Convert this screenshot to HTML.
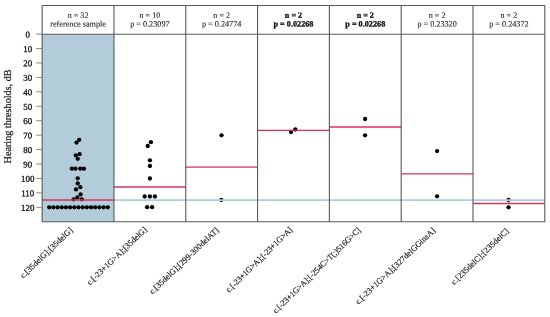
<!DOCTYPE html>
<html><head><meta charset="utf-8"><title>Hearing thresholds</title>
<style>html,body{margin:0;padding:0;background:#fff}body{width:550px;height:317px;overflow:hidden}svg{display:block}text{font-family:"Liberation Serif",serif;text-rendering:geometricPrecision;fill:#161616;stroke:#161616;stroke-width:0.22px}text.h{stroke:#222;stroke-width:0.1px;fill:#222}text.hb{stroke:#111;stroke-width:0.3px;fill:#111}</style>
</head><body>
<svg width="550" height="317" viewBox="0 0 550 317">
<rect x="0" y="0" width="550" height="317" fill="#ffffff"/>
<rect x="42.15" y="34.25" width="71.81" height="187.55" fill="#b2ccd9"/>
<circle cx="79.2" cy="139.8" r="2.15" fill="#000"/>
<circle cx="76.5" cy="142.6" r="2.15" fill="#000"/>
<circle cx="79.6" cy="154.2" r="2.15" fill="#000"/>
<circle cx="75.8" cy="155.3" r="2.15" fill="#000"/>
<circle cx="77.7" cy="158.8" r="2.15" fill="#000"/>
<circle cx="71.8" cy="168.7" r="2.15" fill="#000"/>
<circle cx="75.4" cy="168.7" r="2.15" fill="#000"/>
<circle cx="80.2" cy="168.7" r="2.15" fill="#000"/>
<circle cx="83.9" cy="168.7" r="2.15" fill="#000"/>
<circle cx="77.7" cy="178.3" r="2.15" fill="#000"/>
<circle cx="77.7" cy="183.4" r="2.15" fill="#000"/>
<circle cx="80.3" cy="187.2" r="2.15" fill="#000"/>
<circle cx="76.0" cy="189.4" r="2.15" fill="#000"/>
<circle cx="80.6" cy="194.4" r="2.15" fill="#000"/>
<circle cx="77.4" cy="197.4" r="2.15" fill="#000"/>
<circle cx="73.6" cy="199.3" r="2.15" fill="#000"/>
<circle cx="81.8" cy="199.3" r="2.15" fill="#000"/>
<circle cx="49.2" cy="207.3" r="2.15" fill="#000"/>
<circle cx="53.4" cy="207.3" r="2.15" fill="#000"/>
<circle cx="57.6" cy="207.3" r="2.15" fill="#000"/>
<circle cx="61.8" cy="207.3" r="2.15" fill="#000"/>
<circle cx="65.9" cy="207.3" r="2.15" fill="#000"/>
<circle cx="70.1" cy="207.3" r="2.15" fill="#000"/>
<circle cx="74.3" cy="207.3" r="2.15" fill="#000"/>
<circle cx="78.5" cy="207.3" r="2.15" fill="#000"/>
<circle cx="82.7" cy="207.3" r="2.15" fill="#000"/>
<circle cx="86.9" cy="207.3" r="2.15" fill="#000"/>
<circle cx="91.1" cy="207.3" r="2.15" fill="#000"/>
<circle cx="95.2" cy="207.3" r="2.15" fill="#000"/>
<circle cx="99.4" cy="207.3" r="2.15" fill="#000"/>
<circle cx="103.6" cy="207.3" r="2.15" fill="#000"/>
<circle cx="107.8" cy="207.3" r="2.15" fill="#000"/>
<circle cx="150.9" cy="142.2" r="2.15" fill="#000"/>
<circle cx="147.7" cy="146.0" r="2.15" fill="#000"/>
<circle cx="149.9" cy="160.3" r="2.15" fill="#000"/>
<circle cx="149.9" cy="166.0" r="2.15" fill="#000"/>
<circle cx="149.9" cy="178.5" r="2.15" fill="#000"/>
<circle cx="144.6" cy="196.5" r="2.15" fill="#000"/>
<circle cx="149.9" cy="196.5" r="2.15" fill="#000"/>
<circle cx="154.9" cy="196.5" r="2.15" fill="#000"/>
<circle cx="147.1" cy="207.2" r="2.15" fill="#000"/>
<circle cx="152.1" cy="207.2" r="2.15" fill="#000"/>
<circle cx="221.5" cy="135.3" r="2.15" fill="#000"/>
<circle cx="221.3" cy="199.9" r="2.15" fill="#000"/>
<circle cx="291.1" cy="132.0" r="2.15" fill="#000"/>
<circle cx="295.3" cy="129.5" r="2.15" fill="#000"/>
<circle cx="365.1" cy="119.0" r="2.15" fill="#000"/>
<circle cx="365.1" cy="135.3" r="2.15" fill="#000"/>
<circle cx="437.1" cy="151.1" r="2.15" fill="#000"/>
<circle cx="437.1" cy="196.3" r="2.15" fill="#000"/>
<circle cx="508.5" cy="200.0" r="2.15" fill="#000"/>
<circle cx="508.5" cy="207.3" r="2.15" fill="#000"/>
<line x1="113.96" x2="544.80" y1="200.1" y2="200.1" stroke="#b2cddd" stroke-width="1.6"/>
<line x1="42.15" x2="113.96" y1="200.0" y2="200.0" stroke="#d8305e" stroke-width="1.35"/>
<line x1="113.96" x2="185.76" y1="187.0" y2="187.0" stroke="#d8305e" stroke-width="1.35"/>
<line x1="185.76" x2="257.57" y1="167.1" y2="167.1" stroke="#d8305e" stroke-width="1.35"/>
<line x1="257.57" x2="329.38" y1="130.3" y2="130.3" stroke="#d8305e" stroke-width="1.35"/>
<line x1="329.38" x2="401.19" y1="127.0" y2="127.0" stroke="#d8305e" stroke-width="1.35"/>
<line x1="401.19" x2="472.99" y1="173.8" y2="173.8" stroke="#d8305e" stroke-width="1.35"/>
<line x1="472.99" x2="544.80" y1="203.5" y2="203.5" stroke="#d8305e" stroke-width="1.35"/>
<g stroke="#585858" stroke-width="1.1" fill="none" stroke-linejoin="round">
<rect x="42.15" y="5.50" width="502.65" height="216.30"/>
<line x1="42.15" x2="544.80" y1="34.25" y2="34.25"/>
<line x1="113.96" x2="113.96" y1="5.50" y2="221.80"/>
<line x1="185.76" x2="185.76" y1="5.50" y2="221.80"/>
<line x1="257.57" x2="257.57" y1="5.50" y2="221.80"/>
<line x1="329.38" x2="329.38" y1="5.50" y2="221.80"/>
<line x1="401.19" x2="401.19" y1="5.50" y2="221.80"/>
<line x1="472.99" x2="472.99" y1="5.50" y2="221.80"/>
<line x1="36.3" x2="42.15" y1="34.10" y2="34.10" stroke-width="0.9" stroke="#7a7a7a"/>
<line x1="36.3" x2="42.15" y1="48.54" y2="48.54" stroke-width="0.9" stroke="#7a7a7a"/>
<line x1="36.3" x2="42.15" y1="62.97" y2="62.97" stroke-width="0.9" stroke="#7a7a7a"/>
<line x1="36.3" x2="42.15" y1="77.41" y2="77.41" stroke-width="0.9" stroke="#7a7a7a"/>
<line x1="36.3" x2="42.15" y1="91.84" y2="91.84" stroke-width="0.9" stroke="#7a7a7a"/>
<line x1="36.3" x2="42.15" y1="106.28" y2="106.28" stroke-width="0.9" stroke="#7a7a7a"/>
<line x1="36.3" x2="42.15" y1="120.71" y2="120.71" stroke-width="0.9" stroke="#7a7a7a"/>
<line x1="36.3" x2="42.15" y1="135.15" y2="135.15" stroke-width="0.9" stroke="#7a7a7a"/>
<line x1="36.3" x2="42.15" y1="149.58" y2="149.58" stroke-width="0.9" stroke="#7a7a7a"/>
<line x1="36.3" x2="42.15" y1="164.01" y2="164.01" stroke-width="0.9" stroke="#7a7a7a"/>
<line x1="36.3" x2="42.15" y1="178.45" y2="178.45" stroke-width="0.9" stroke="#7a7a7a"/>
<line x1="36.3" x2="42.15" y1="192.88" y2="192.88" stroke-width="0.9" stroke="#7a7a7a"/>
<line x1="36.3" x2="42.15" y1="207.32" y2="207.32" stroke-width="0.9" stroke="#7a7a7a"/>
</g>
<text transform="translate(27.7,37.50) rotate(0.03)" font-size="8.9" text-anchor="middle" style="stroke-width:0.32px">0</text>
<text transform="translate(27.7,51.94) rotate(0.03)" font-size="8.9" text-anchor="middle" style="stroke-width:0.32px">10</text>
<text transform="translate(27.7,66.37) rotate(0.03)" font-size="8.9" text-anchor="middle" style="stroke-width:0.32px">20</text>
<text transform="translate(27.7,80.81) rotate(0.03)" font-size="8.9" text-anchor="middle" style="stroke-width:0.32px">30</text>
<text transform="translate(27.7,95.24) rotate(0.03)" font-size="8.9" text-anchor="middle" style="stroke-width:0.32px">40</text>
<text transform="translate(27.7,109.68) rotate(0.03)" font-size="8.9" text-anchor="middle" style="stroke-width:0.32px">50</text>
<text transform="translate(27.7,124.11) rotate(0.03)" font-size="8.9" text-anchor="middle" style="stroke-width:0.32px">60</text>
<text transform="translate(27.7,138.55) rotate(0.03)" font-size="8.9" text-anchor="middle" style="stroke-width:0.32px">70</text>
<text transform="translate(27.7,152.98) rotate(0.03)" font-size="8.9" text-anchor="middle" style="stroke-width:0.32px">80</text>
<text transform="translate(27.7,167.41) rotate(0.03)" font-size="8.9" text-anchor="middle" style="stroke-width:0.32px">90</text>
<text transform="translate(27.7,181.85) rotate(0.03)" font-size="8.9" text-anchor="middle" style="stroke-width:0.32px">100</text>
<text transform="translate(27.7,196.28) rotate(0.03)" font-size="8.9" text-anchor="middle" style="stroke-width:0.32px">110</text>
<text transform="translate(27.7,210.72) rotate(0.03)" font-size="8.9" text-anchor="middle" style="stroke-width:0.32px">120</text>
<text transform="translate(11.1,116.45) rotate(-90.03)" font-size="10.17" text-anchor="middle">Hearing thresholds, dB</text>
<text class="h" transform="translate(78.05,17.7) rotate(0.03)" font-size="8.1" text-anchor="middle">n = 32</text>
<text class="h" transform="translate(78.05,26.5) rotate(0.03)" font-size="8.2" text-anchor="middle">reference sample</text>
<text class="h" transform="translate(149.86,17.7) rotate(0.03)" font-size="8.1" text-anchor="middle">n = 10</text>
<text class="h" transform="translate(149.86,26.5) rotate(0.03)" font-size="8.2" text-anchor="middle">p = 0.23097</text>
<text class="h" transform="translate(221.67,17.7) rotate(0.03)" font-size="8.1" text-anchor="middle">n = 2</text>
<text class="h" transform="translate(221.67,26.5) rotate(0.03)" font-size="8.2" text-anchor="middle">p = 0.24774</text>
<text class="hb" transform="translate(293.47,17.7) rotate(0.03)" font-size="8.1" text-anchor="middle" font-weight="bold">n = 2</text>
<text class="hb" transform="translate(293.47,26.5) rotate(0.03)" font-size="8.2" text-anchor="middle" font-weight="bold">p = 0.02268</text>
<text class="hb" transform="translate(365.28,17.7) rotate(0.03)" font-size="8.1" text-anchor="middle" font-weight="bold">n = 2</text>
<text class="hb" transform="translate(365.28,26.5) rotate(0.03)" font-size="8.2" text-anchor="middle" font-weight="bold">p = 0.02268</text>
<text class="h" transform="translate(437.09,17.7) rotate(0.03)" font-size="8.1" text-anchor="middle">n = 2</text>
<text class="h" transform="translate(437.09,26.5) rotate(0.03)" font-size="8.2" text-anchor="middle">p = 0.23320</text>
<text class="h" transform="translate(508.90,17.7) rotate(0.03)" font-size="8.1" text-anchor="middle">n = 2</text>
<text class="h" transform="translate(508.90,26.5) rotate(0.03)" font-size="8.2" text-anchor="middle">p = 0.24372</text>
<text transform="translate(23.3,278.6) rotate(-43.77)" font-size="8.3" textLength="69.1" lengthAdjust="spacing" style="stroke-width:0.15px">c.[35delG];[35delG]</text>
<text transform="translate(89.9,285.4) rotate(-43.73)" font-size="8.3" textLength="79.6" lengthAdjust="spacing" style="stroke-width:0.15px">c.[-23+1G&gt;A];[35delG]</text>
<text transform="translate(152.5,294.5) rotate(-43.64)" font-size="8.3" textLength="92.4" lengthAdjust="spacing" style="stroke-width:0.15px">c.[35delG];[299-300delAT]</text>
<text transform="translate(229.1,292.8) rotate(-44.41)" font-size="8.3" textLength="89.2" lengthAdjust="spacing" style="stroke-width:0.15px">c.[-23+1G&gt;A];[-23+1G&gt;A]</text>
<text transform="translate(275.9,313.7) rotate(-44.18)" font-size="8.3" textLength="118.9" lengthAdjust="spacing" style="stroke-width:0.15px">c.[-23+1G&gt;A];[-254C&gt;T(;)516G&gt;C]</text>
<text transform="translate(358.5,304.7) rotate(-43.56)" font-size="8.3" textLength="106.7" lengthAdjust="spacing" style="stroke-width:0.15px">c.[-23+1G&gt;A];[327delGGinsA]</text>
<text transform="translate(454.3,285.2) rotate(-44.31)" font-size="8.3" textLength="76.7" lengthAdjust="spacing" style="stroke-width:0.15px">c.[235delC];[235delC]</text>
</svg></body></html>
